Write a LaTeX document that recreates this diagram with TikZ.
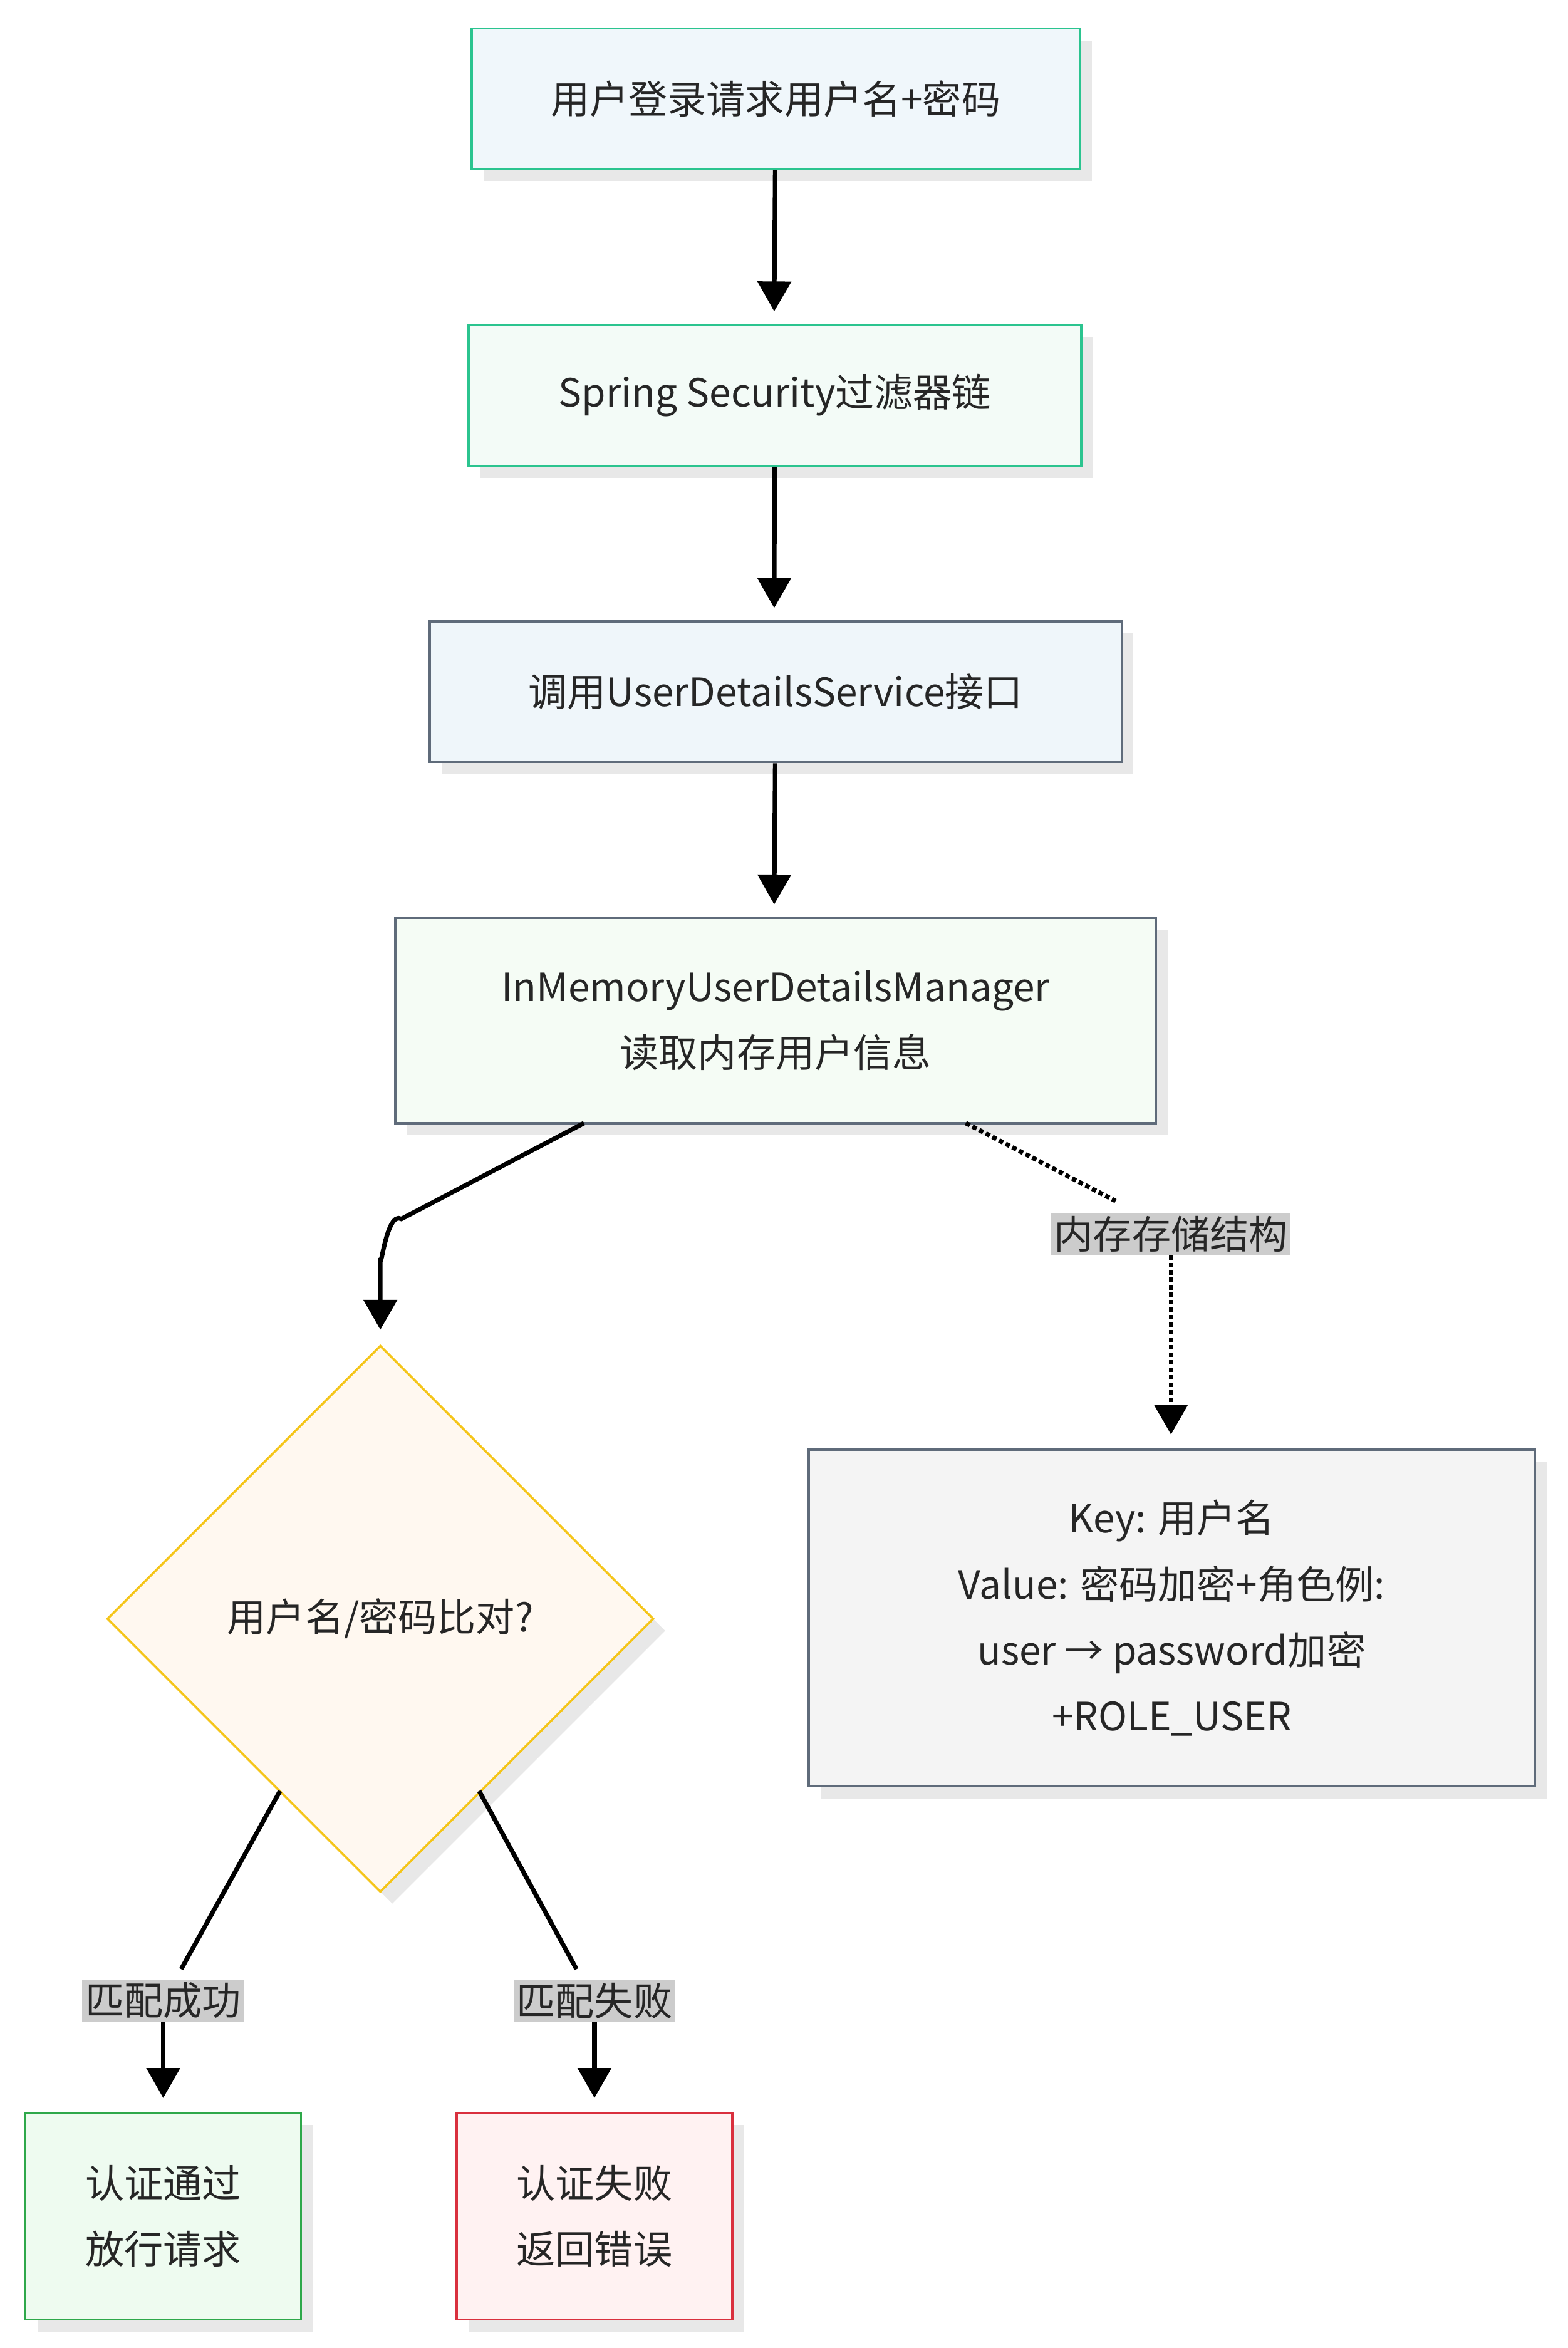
\documentclass[tikz,border=0pt]{standalone}
\usepackage{fontspec}
\setmainfont{Noto Sans CJK SC}
\usetikzlibrary{shapes.geometric,arrows.meta}
\definecolor{teal}{HTML}{2BC48F}
\definecolor{gb}{HTML}{5F6B7A}
\tikzset{
 box/.style={draw,line width=1.5pt,inner sep=0pt,font=\fontsize{26}{44}\selectfont,align=center,text=black!85,
   preaction={fill=black!9,transform canvas={shift={(8pt,-8pt)}}}},
 arr/.style={line width=3pt,-{Triangle[length=20pt,width=22pt]}},
 lab/.style={fill=black!20,font=\fontsize{26}{30}\selectfont,inner sep=2pt,text=black!85},
}
\begin{document}
\begin{tikzpicture}[x=1pt,y=-1pt]
\useasboundingbox (0,0) rectangle (1047,1568);
\node[box,draw=teal,fill={rgb,255:red,240;green,247;blue,251},minimum width=406pt,minimum height=94pt] (n1) at (518,66) {用户登录请求用户名+密码};
\node[box,draw=teal,fill={rgb,255:red,243;green,251;blue,247},minimum width=409pt,minimum height=94pt] (n2) at (517.5,264) {Spring Security过滤器链};
\node[box,draw=gb,fill={rgb,255:red,239;green,246;blue,250},minimum width=462pt,minimum height=94pt] (n3) at (518,462) {调用UserDetailsService接口};
\node[box,draw=gb,fill={rgb,255:red,245;green,252;blue,245},minimum width=508pt,minimum height=137pt] (n4) at (518,681.5) {InMemoryUserDetailsManager\\读取内存用户信息};
\node[box,diamond,aspect=1,draw={rgb,255:red,245;green,197;blue,24},fill={rgb,255:red,255;green,248;blue,240},minimum width=365pt,minimum height=365pt] (n5) at (254,1081) {用户名/密码比对?};
\node[box,draw=gb,fill={rgb,255:red,244;green,244;blue,244},minimum width=485pt,minimum height=225pt] (n6) at (782.5,1080.5) {Key: 用户名\\Value: 密码加密+角色例:\\user → password加密\\+ROLE\_USER};
\node[box,draw={rgb,255:red,46;green,168;blue,74},fill={rgb,255:red,238;green,251;blue,240},minimum width=184pt,minimum height=138pt] (n7) at (109,1480) {认证通过\\放行请求};
\node[box,draw={rgb,255:red,217;green,48;blue,62},fill={rgb,255:red,255;green,242;blue,242},minimum width=184pt,minimum height=138pt] (n8) at (397,1480) {认证失败\\返回错误};
\draw[arr] (n1) -- (517,208);
\draw[arr] (n2) -- (517,406);
\draw[arr] (n3) -- (517,604);
\coordinate (a1) at (390,750);
\draw[arr] (a1) -- (268,814) to[out=150,in=-90] (254,840) -- (254,888);
\coordinate (d1) at (645,750);
\node[lab] (l1) at (782,824) {内存存储结构};
\draw[line width=3pt,dotted] (d1) -- (745,802);
\draw[line width=3pt,dotted,-{Triangle[length=20pt,width=22pt]}] (l1.south) -- (782,958);
\coordinate (e1) at (187,1196);
\coordinate (e2) at (320,1196);
\node[lab] (l2) at (109,1336) {匹配成功};
\node[lab] (l3) at (397,1336) {匹配失败};
\draw[line width=3pt] (e1) -- (121,1315);
\draw[line width=3pt] (e2) -- (385,1315);
\draw[arr] (l2.south) -- (109,1401);
\draw[arr] (l3.south) -- (397,1401);
\end{tikzpicture}
\end{document}
